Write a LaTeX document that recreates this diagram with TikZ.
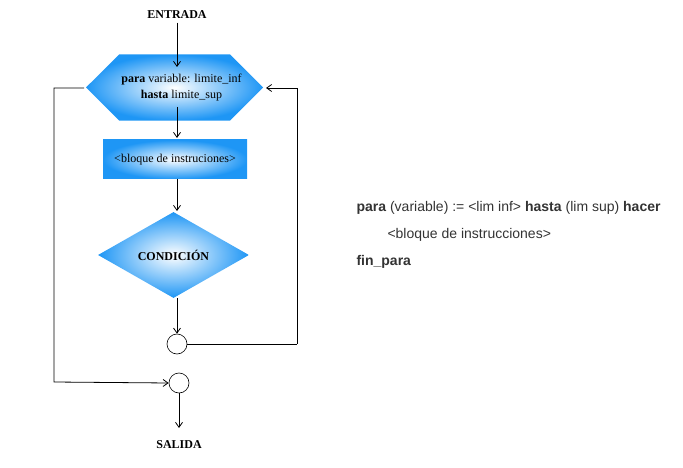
\documentclass[tikz,border=0pt]{standalone}
\usepackage{fontspec}
\setmainfont{Liberation Serif}
\newfontfamily\arial{Liberation Sans}
\usetikzlibrary{shapes.geometric,shapes.misc,arrows.meta}
\definecolor{fblue}{RGB}{30,150,245}
\definecolor{txtgray}{RGB}{51,51,51}
\begin{document}
\begin{tikzpicture}[x=1pt,y=-1pt,
  grad/.style={shading=radial,inner color=white,outer color=fblue},
  arr/.style={-{Straight Barb[length=5pt,width=7pt]},line width=0.8pt},
  ln/.style={line width=0.8pt},
  lbl/.style={font=\fontsize{12}{14}\selectfont\bfseries},
  circ/.style={circle,draw,minimum size=20pt,inner sep=0pt,line width=0.6pt},
  rt/.style={anchor=west,text=txtgray,font=\arial\fontsize{14}{16}\selectfont}]
\useasboundingbox (0,0) rectangle (683,468);
\node[lbl] (in) at (177,15) {ENTRADA};
\node[grad,draw=none,minimum width=177pt,minimum height=39pt,
  chamfered rectangle,chamfered rectangle xsep=16pt,chamfered rectangle ysep=19.5pt,
  inner sep=0pt,align=center,
  font=\fontsize{12}{16}\selectfont] (hex) at (174.5,87.5)
  {\hspace*{14pt}\textbf{para} variable: limite\_inf\\\hspace*{14pt}\textbf{hasta} limite\_sup};
\node[grad,minimum width=144pt,minimum height=39pt,inner sep=0pt,
  font=\fontsize{12}{14}\selectfont] (blk) at (175,159.5) {<bloque de instruciones>};
\node[grad,diamond,minimum width=151pt,minimum height=86pt,inner sep=0pt,aspect=1.75,
  font=\fontsize{12}{14}\selectfont\bfseries] (cond) at (173.5,255) {CONDICIÓN};
\node[circ] (c1) at (177,344) {};
\node[circ] (c2) at (179,383) {};
\node[lbl] (out) at (179,445) {SALIDA};
\draw[arr] (in.south) -- (177,67);
\draw[arr] (177,107) -- (177,138);
\draw[arr] (177,179) -- (177,211);
\draw[arr] (177,298) -- (c1.north);
\draw[ln] (c1.east) -- (297,344) coordinate (r1);
\draw[arr] (r1) -- (297,88) -- (266,88);
\draw[arr] (84,88) -- (54,88) -- (54,382) -- (c2.west);
\draw[arr] (c2.south) -- (179,428);
\node[rt] (t1) at (353,208) {\textbf{para} (variable) := <lim inf> \textbf{hasta} (lim sup) \textbf{hacer}};
\node[rt] (t2) at (384,235) {<bloque de instrucciones>};
\node[rt] (t3) at (353,262) {\textbf{fin\_para}};
\end{tikzpicture}
\end{document}
